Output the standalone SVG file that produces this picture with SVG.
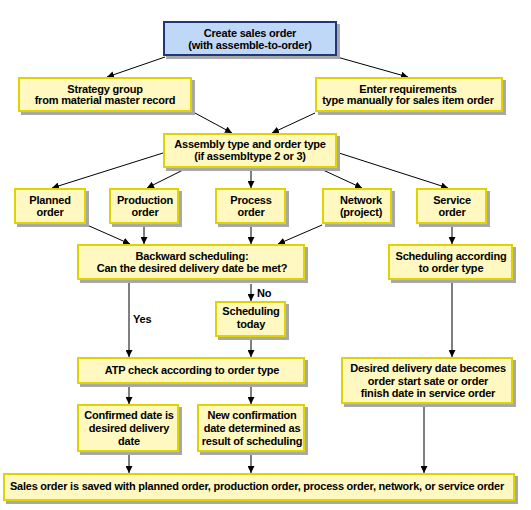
<svg xmlns="http://www.w3.org/2000/svg" width="531" height="510" viewBox="0 0 531 510">
<defs>
<marker id="ah" viewBox="0 0 8 8" refX="8" refY="4" markerWidth="7" markerHeight="7" markerUnits="userSpaceOnUse" orient="auto">
<path d="M0,0 L8,4 L0,8 Z" fill="#000"/>
</marker>
<style>
.sh{fill:#a8a8a8;}
.y{fill:#fff8c0;stroke:#e0d400;stroke-width:2;}
.b{fill:#c0d8f8;stroke:#203878;stroke-width:2;}
text{font-family:"Liberation Sans",Arial,sans-serif;font-weight:bold;font-size:11px;fill:#000;text-anchor:middle;letter-spacing:-0.2px;}
.c line{stroke:#000;stroke-width:1;marker-end:url(#ah);}
.lbl{text-anchor:start;}
</style>
</defs>
<rect width="531" height="510" fill="#fff"/>
<g class="c" id="connectors">
<line x1="165" y1="57" x2="107" y2="77"/>
<line x1="337" y1="57" x2="408" y2="77"/>
<line x1="195" y1="113" x2="232" y2="133"/>
<line x1="315" y1="113" x2="272" y2="133"/>
<line x1="163" y1="153" x2="52" y2="188"/>
<line x1="183" y1="170" x2="147" y2="188"/>
<line x1="251" y1="170" x2="251" y2="188"/>
<line x1="323" y1="170" x2="362" y2="188"/>
<line x1="339" y1="153" x2="448" y2="188"/>
<line x1="87" y1="225" x2="130" y2="244"/>
<line x1="144" y1="226" x2="144" y2="244"/>
<line x1="251" y1="226" x2="251" y2="244"/>
<line x1="322" y1="225" x2="278" y2="244"/>
<line x1="452" y1="226" x2="452" y2="244"/>
<line x1="129" y1="282" x2="129" y2="357"/>
<line x1="251" y1="284" x2="251" y2="301"/>
<line x1="251" y1="339" x2="251" y2="357"/>
<line x1="452" y1="282" x2="452" y2="357"/>
<line x1="129" y1="386" x2="129" y2="404"/>
<line x1="251" y1="386" x2="251" y2="404"/>
<line x1="129" y1="454" x2="129" y2="473"/>
<line x1="251" y1="454" x2="251" y2="473"/>
<line x1="424" y1="406" x2="424" y2="473"/>
<text class="lbl" x="133" y="323">Yes</text>
<text class="lbl" x="257" y="297">No</text>
</g>
<g id="create">
<rect class="sh" x="166" y="24" width="174" height="35"/>
<rect class="b" x="164" y="22" width="172" height="33"/>
<text x="250" y="37">Create sales order</text>
<text x="250" y="49">(with assemble-to-order)</text>
</g>
<g id="strategy">
<rect class="sh" x="21" y="80" width="174" height="35"/>
<rect class="y" x="19" y="78" width="172" height="33"/>
<text x="105" y="93">Strategy group</text>
<text x="105" y="104">from material master record</text>
</g>
<g id="enter">
<rect class="sh" x="318" y="80" width="188" height="35"/>
<rect class="y" x="316" y="78" width="186" height="33"/>
<text x="408" y="93">Enter requirements</text>
<text x="408" y="104">type manually for sales item order</text>
</g>
<g id="assembly">
<rect class="sh" x="166" y="136" width="174" height="35"/>
<rect class="y" x="164" y="134" width="172" height="33"/>
<text x="250" y="148">Assembly type and order type</text>
<text x="250" y="160">(if assembltype 2 or 3)</text>
</g>
<g id="planned">
<rect class="sh" x="17" y="191" width="72" height="36"/>
<rect class="y" x="15" y="189" width="70" height="34"/>
<text x="50" y="204">Planned</text>
<text x="50" y="216">order</text>
</g>
<g id="production">
<rect class="sh" x="112" y="191" width="70" height="36"/>
<rect class="y" x="110" y="189" width="68" height="34"/>
<text x="145" y="204">Production</text>
<text x="145" y="216">order</text>
</g>
<g id="process">
<rect class="sh" x="218" y="191" width="71" height="36"/>
<rect class="y" x="216" y="189" width="69" height="34"/>
<text x="251" y="204">Process</text>
<text x="251" y="216">order</text>
</g>
<g id="network">
<rect class="sh" x="325" y="191" width="70" height="36"/>
<rect class="y" x="323" y="189" width="68" height="34"/>
<text x="361" y="204">Network</text>
<text x="361" y="216">(project)</text>
</g>
<g id="service">
<rect class="sh" x="419" y="191" width="71" height="36"/>
<rect class="y" x="417" y="189" width="69" height="34"/>
<text x="452" y="204">Service</text>
<text x="452" y="216">order</text>
</g>
<g id="backward">
<rect class="sh" x="80" y="247" width="228" height="36"/>
<rect class="y" x="78" y="245" width="226" height="34"/>
<text x="192" y="260">Backward scheduling:</text>
<text x="192" y="272">Can the desired delivery date be met?</text>
</g>
<g id="schedaccording">
<rect class="sh" x="391" y="247" width="125" height="36"/>
<rect class="y" x="389" y="245" width="123" height="34"/>
<text x="451" y="260">Scheduling according</text>
<text x="451" y="272">to order type</text>
</g>
<g id="schedtoday">
<rect class="sh" x="218" y="304" width="71" height="36"/>
<rect class="y" x="216" y="302" width="69" height="34"/>
<text x="251" y="315">Scheduling</text>
<text x="251" y="328">today</text>
</g>
<g id="atp">
<rect class="sh" x="80" y="360" width="228" height="27"/>
<rect class="y" x="78" y="358" width="226" height="25"/>
<text x="192" y="374">ATP check according to order type</text>
</g>
<g id="desired">
<rect class="sh" x="344" y="360" width="172" height="47"/>
<rect class="y" x="342" y="358" width="170" height="45"/>
<text x="428" y="372">Desired delivery date becomes</text>
<text x="428" y="384.5">order start sate or order</text>
<text x="428" y="397">finish date in service order</text>
</g>
<g id="confirmed">
<rect class="sh" x="80" y="407" width="102" height="48"/>
<rect class="y" x="78" y="405" width="100" height="46"/>
<text x="129" y="419">Confirmed date is</text>
<text x="129" y="432">desired delivery</text>
<text x="129" y="445">date</text>
</g>
<g id="newconf">
<rect class="sh" x="200" y="407" width="108" height="48"/>
<rect class="y" x="198" y="405" width="106" height="46"/>
<text x="252" y="419">New confirmation</text>
<text x="252" y="432">date determined as</text>
<text x="252" y="445">result of scheduling</text>
</g>
<g id="saved">
<rect class="sh" x="6" y="476" width="512" height="28"/>
<rect class="y" x="4" y="474" width="510" height="26"/>
<text x="257" y="490" textLength="494" lengthAdjust="spacingAndGlyphs">Sales order is saved with planned order, production order, process order, network, or service order</text>
</g>
</svg>
